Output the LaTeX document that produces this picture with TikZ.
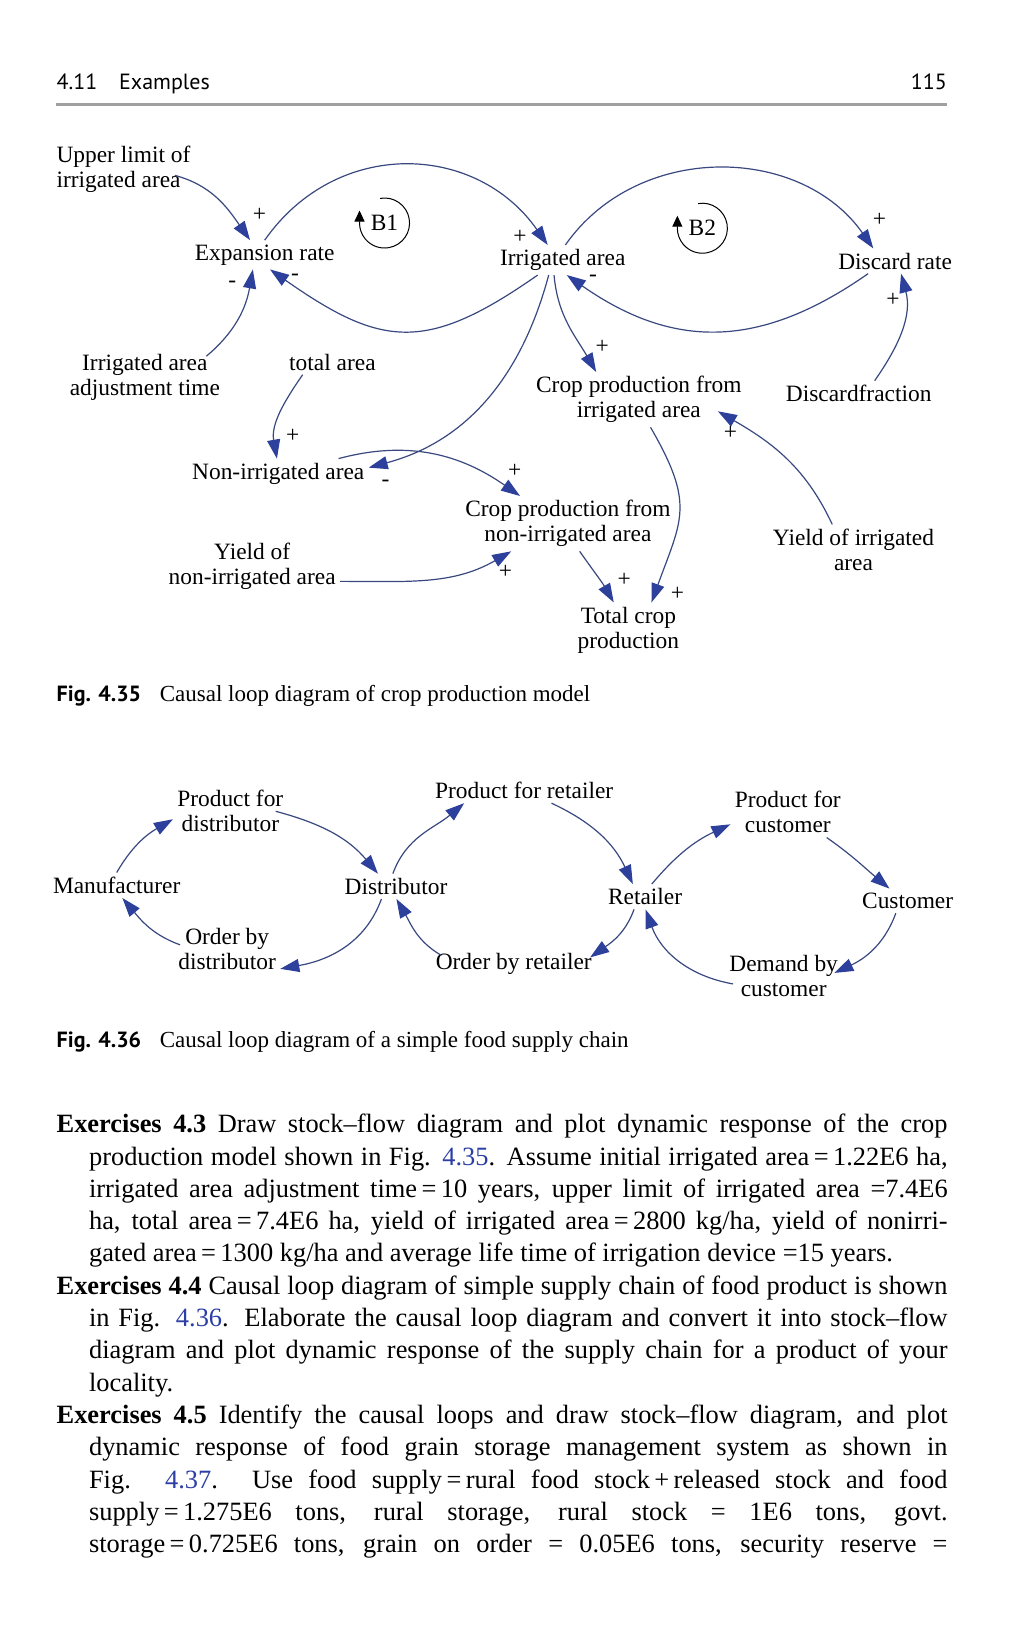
\documentclass[tikz,border=0pt]{standalone}
\usepackage{fontspec}
\setmainfont{Liberation Serif}
\setsansfont{PT Sans}
\usetikzlibrary{arrows.meta}

\definecolor{linknavy}{HTML}{3A4880}
\definecolor{headblue}{HTML}{2D409B}
\definecolor{refblue}{HTML}{2B3FA5}
\definecolor{rulegray}{HTML}{A0A0A0}

\newcommand{\cldfont}{\fontsize{11.7}{12.5}\selectfont}
\newcommand{\bodysize}{\fontsize{13.2}{16.15}\selectfont}

\begin{document}
\begin{tikzpicture}[x=0.5211pt,y=0.5211pt,
    var/.style={align=center,inner sep=2pt,yshift=-1.3pt,font=\cldfont},
    pol/.style={inner sep=0pt,font=\cldfont},
    link/.style={draw=linknavy,line width=0.6pt,
        -{Triangle[length=9.5pt,width=6.5pt,color=headblue]}},
    loopsym/.style={line width=0.5pt,-{Triangle[length=5.5pt,width=5pt]}},
    head/.style={inner sep=0pt,font=\sffamily\fontsize{11}{13}\selectfont},
    capnum/.style={anchor=base west,inner sep=0pt,font=\sffamily\bfseries\fontsize{11}{13}\selectfont},
    caption/.style={anchor=base west,inner sep=0pt,font=\fontsize{11.5}{13}\selectfont}
]

\fill[white] (0,0) rectangle (971,-1568);
\useasboundingbox (0,0) rectangle (971,-1568);

% running head
\node[head,anchor=base west] (hnum) at (54,-86) {4.11};
\node[head,anchor=base west] (htitle) at (114,-86) {Examples};
\node[head,anchor=base east] (hpage) at (909,-86) {115};
\draw[rulegray,line width=1.6pt] (54,-100) -- (909,-100);

% Fig. 4.35
\node[var,align=left,anchor=west] (upper) at (50,-160) {Upper limit of\\irrigated area};
\node[var] (exp) at (254,-242) {Expansion rate};
\node[var] (irr) at (540,-247) {Irrigated area};
\node[var] (disc) at (859,-248) {Discard rate};
\node[var] (adj) at (139,-360) {Irrigated area\\adjustment time};
\node[var] (tot) at (319,-345) {total area};
\node[var] (cpi) at (613,-381) {Crop production from\\irrigated area};
\node[var] (dfrac) at (824,-375) {Discardfraction};
\node[var] (nonirr) at (267,-452) {Non-irrigated area};
\node[var] (cpn) at (545,-500) {Crop production from\\non-irrigated area};
\node[var] (ynon) at (242,-541) {Yield of\\non-irrigated area};
\node[var] (yirr) at (819,-525) {Yield of irrigated\\area};
\node[var] (total) at (603,-602) {Total crop\\production};

\node[pol] (b1) at (369,-214) {B1};
\node[pol] (b2) at (674,-219) {B2};
\draw[loopsym] (b1.center) ++(100:24) arc[start angle=100,end angle=-180,radius=24] -- ++(0,12);
\draw[loopsym] (b2.center) ++(100:24) arc[start angle=100,end angle=-180,radius=24] -- ++(0,12);

\draw[link] ([xshift=-10pt,yshift=-3pt]upper.east) to[out=-15,in=125] (exp.135);
\draw[link] (exp.north) to[out=55,in=125,looseness=1.13] (irr.135);
\draw[link] (irr.-149) to[out=-145,in=-35,looseness=1.3] (exp.-70);
\draw[link] ([xshift=-9pt,yshift=-3pt]adj.north east) to[out=40,in=-100] (exp.-129);
\draw[link] (irr.80) to[out=55,in=125,looseness=1.05] (disc.150);
\draw[link] (disc.-155) to[out=-145,in=-35,looseness=1.11] (irr.-75);
\draw[link] ([xshift=8pt]dfrac.north) to[out=55,in=-75] (disc.-65);
\draw[link] (irr.-120) to[out=-85,in=120] (cpi.147);
\draw[link] (irr.-133) to[out=-105,in=15] ([yshift=3pt]nonirr.east);
\draw[link] (nonirr.14) to[out=15,in=145] (cpn.150);
\draw[link] (tot.-157) to[out=-125,in=100] (nonirr.95);
\draw[link] ([yshift=-7.5pt]ynon.east) to[out=0,in=-150] (cpn.-154);
\draw[link] (cpn.-67) to[out=-55,in=120] (total.118);
\draw[link] (cpi.-67) to[out=-60,in=70,looseness=1.3] (total.50);
\draw[link] (yirr.130) to[out=115,in=-30] ([xshift=-14pt,yshift=8pt]cpi.south east);

% polarities
\foreach \s/\x/\y [count=\i] in {+/249/206, +/499/227, -/283/266, -/223/273,
    +/844/211, -/569/267, +/857/288, +/578/333, +/281/418, -/370/464,
    +/494/452, +/701/415, +/485/549, +/599/556, +/650/570}
    \node[pol] (p\i) at (\x,-\y) {\s};

\node[capnum] (fig35) at (54,-673) {Fig. 4.35};
\node[caption] (cap35) at (153,-673) {Causal loop diagram of crop production model};

% Fig. 4.36
\node[var] (man) at (112,-847) {Manufacturer};
\node[var] (pdist) at (221,-776) {Product for\\distributor};
\node[var] (dist) at (380,-848) {Distributor};
\node[var] (odist) at (218,-908) {Order by\\distributor};
\node[var] (pret) at (503,-756) {Product for retailer};
\node[var] (ret) at (619,-858) {Retailer};
\node[var] (oret) at (493,-922) {Order by retailer};
\node[var] (pcus) at (756,-777) {Product for\\customer};
\node[var] (cus) at (871,-862) {Customer};
\node[var] (dcus) at (752,-934) {Demand by\\customer};

\draw[link] (man.north) to[out=60,in=-150] ([yshift=-4pt]pdist.west);
\draw[link] ([xshift=-6pt]pdist.east) to[out=-15,in=130] (dist.145);
\draw[link] (dist.-139) to[out=-110,in=10] ([yshift=-10pt]odist.east);
\draw[link] ([xshift=3pt,yshift=2pt]odist.west) to[out=160,in=-50] (man.-66);
\draw[link] (dist.104) to[out=70,in=-140] (pret.-168);
\draw[link] (pret.-25) to[out=-25,in=115] (ret.134);
\draw[link] (ret.-131) to[out=-110,in=35] ([xshift=-3pt,yshift=3pt]oret.east);
\draw[link] ([xshift=5pt,yshift=4pt]oret.west) to[out=150,in=-60] (dist.-88);
\draw[link] (ret.62) to[out=50,in=-155] ([yshift=-6pt]pcus.west);
\draw[link] (pcus.-33) to[out=-35,in=140] (cus.146);
\draw[link] (cus.-134) to[out=-110,in=25] ([xshift=-4pt,yshift=1.5pt]dcus.east);
\draw[link] ([xshift=4pt,yshift=-4pt]dcus.west) to[out=170,in=-70] (ret.-88);

\node[capnum] (fig36) at (54,-1005) {Fig. 4.36};
\node[caption] (cap36) at (153,-1005) {Causal loop diagram of a simple food supply chain};

% exercises
\node[anchor=base west,inner sep=0pt,text width=445.5pt,align=justify,font=\bodysize] (exercises) at (54,-1087) {%
\tolerance=10000 \hangindent=16.2pt\hangafter=1
\textbf{Exercises 4.3} Draw stock–flow diagram and plot dynamic response of the crop\linebreak
production model shown in Fig. \textcolor{refblue}{4.35}. Assume initial irrigated area\,=\,1.22E6 ha,\linebreak
irrigated area adjustment time\,=\,10 years, upper limit of irrigated area =7.4E6\linebreak
ha, total area\,=\,7.4E6 ha, yield of irrigated area\,=\,2800 kg/ha, yield of nonirri-\linebreak
gated area\,=\,1300 kg/ha and average life time of irrigation device =15 years.\par
\hangindent=16.2pt\hangafter=1
\textbf{Exercises 4.4} Causal loop diagram of simple supply chain of food product is shown\linebreak
in Fig. \textcolor{refblue}{4.36}. Elaborate the causal loop diagram and convert it into stock–flow\linebreak
diagram and plot dynamic response of the supply chain for a product of your\linebreak
locality.\par
\hangindent=16.2pt\hangafter=1 \parfillskip=0pt
\textbf{Exercises 4.5} Identify the causal loops and draw stock–flow diagram, and plot\linebreak
dynamic response of food grain storage management system as shown in\linebreak
Fig. \textcolor{refblue}{4.37}. Use food supply\,=\,rural food stock\,+\,released stock and food\linebreak
supply\,=\,1.275E6 tons, rural storage, rural stock = 1E6 tons, govt.\linebreak
storage\,=\,0.725E6 tons, grain on order = 0.05E6 tons, security reserve =\par};

\end{tikzpicture}
\end{document}
